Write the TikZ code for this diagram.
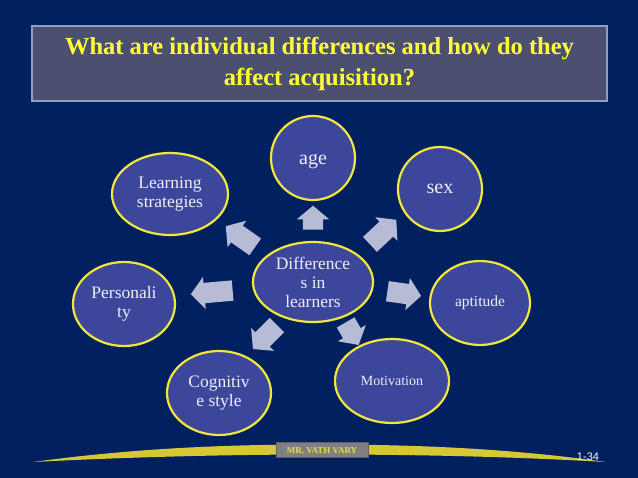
\documentclass[tikz,border=0pt]{standalone}
\usepackage{fontspec}
\setmainfont{Liberation Serif}
\newfontfamily\pagefont{Liberation Sans}
\usetikzlibrary{shapes.geometric,shapes.arrows}
\definecolor{navy}{RGB}{0,32,96}
\definecolor{bubblefill}{RGB}{60,70,155}
\definecolor{rim}{RGB}{240,230,60}
\definecolor{pale}{RGB}{182,188,214}
\definecolor{titlefill}{RGB}{75,80,112}
\definecolor{titlerim}{RGB}{140,160,195}
\definecolor{titletext}{RGB}{255,255,51}
\definecolor{swoosh}{RGB}{214,200,50}
\definecolor{tagtext}{RGB}{232,218,90}
\definecolor{softwhite}{RGB}{238,238,246}
\begin{document}
\begin{tikzpicture}[x=1pt,y=-1pt,
    bubble/.style={ellipse,draw=rim,line width=2.2pt,fill=bubblefill,
      text=softwhite,align=center,inner sep=0pt,
      font=\fontsize{17.5}{19}\selectfont},
    spoke/.style={single arrow,fill=pale,inner xsep=0pt,inner ysep=10pt,
      single arrow head extend=6pt,single arrow tip angle=100}]
  % slide background and title
  \fill[navy] (0,0) rectangle (638,478);
  \draw[titlerim,line width=1.5pt,fill=titlefill] (32,26) rectangle (607,101);
  \node[text=titletext,align=center,font=\fontsize{24.5}{31}\bfseries\selectfont]
    (title) at (319.5,64) {What are individual differences and how do they\\affect acquisition?};
  % bubbles
  \node[bubble,minimum width=120pt,minimum height=80pt] (dif) at (313,282) {Difference\\s in\\learners};
  \node[bubble,minimum width=84pt,minimum height=84pt,font=\fontsize{20}{22}\selectfont,
    text height=13pt,text depth=0pt] (age) at (313,158) {age};
  \node[bubble,minimum width=84pt,minimum height=84pt,font=\fontsize{20}{22}\selectfont] (sex) at (440,189) {sex};
  \node[bubble,minimum width=100pt,minimum height=84pt,font=\fontsize{15.5}{17}\selectfont] (apt) at (480,303) {aptitude};
  \node[bubble,minimum width=114pt,minimum height=84pt,font=\fontsize{14}{16}\selectfont] (mot) at (392,381) {Motivation};
  \node[bubble,minimum width=104pt,minimum height=84pt] (cog) at (219,393) {Cognitiv\\e style};
  \node[bubble,minimum width=102pt,minimum height=84pt] (per) at (124,304) {Personali\\ty};
  \node[bubble,minimum width=116pt,minimum height=82pt] (lea) at (170,194) {Learning\\strategies};
  % spokes
  \node[spoke,minimum height=24pt,rotate=90] (toage) at (313,222) {};
  \node[spoke,minimum height=36pt,rotate=43] (tosex) at (380,235) {};
  \node[spoke,minimum height=34pt,rotate=-8] (toapt) at (400,293) {};
  \node[spoke,minimum height=26pt,rotate=-60] (tomot) at (350,330) {};
  \node[spoke,minimum height=34pt,rotate=225] (tocog) at (268,334) {};
  \node[spoke,minimum height=42pt,rotate=185] (toper) at (216,292) {};
  \node[spoke,minimum height=36pt,rotate=145] (tolea) at (244,239) {};
  % footer
  \fill[swoosh] (33,462) .. controls (150,446) and (250,444.5) .. (320,444.5)
    .. controls (400,444.5) and (500,447) .. (606,462)
    .. controls (500,456) and (400,454.5) .. (320,454.5)
    .. controls (250,454.5) and (150,456) .. (33,462) -- cycle;
  \node[draw={rgb,255:red,95;green,95;blue,95},fill={rgb,255:red,128;green,128;blue,128},
    line width=1pt,minimum width=92pt,minimum height=15pt,inner sep=0pt,
    text=tagtext,font=\fontsize{9}{10}\bfseries\selectfont] (tag) at (322,450.5) {MR. VATH VARY};
  \node[text=white,font=\pagefont\fontsize{11}{12}\selectfont,inner sep=0pt] (page) at (588,457) {1-34};
\end{tikzpicture}
\end{document}
